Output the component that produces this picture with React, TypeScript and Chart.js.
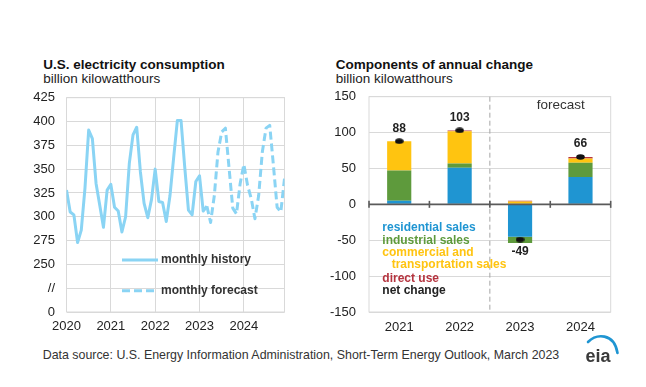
import React, { useEffect, useRef } from "react";
import { Chart, registerables } from "chart.js";
Chart.register(...registerables);

const FONT = "'Liberation Sans', Arial, Helvetica, sans-serif";
const GRID = "#d9d9d9";
const TEXT = "#222222";
const LINE = "#8ad4f4";
const BLUE = "#1f95d2";
const GREEN = "#5e9a3c";
const YELLOW = "#ffc410";
const RED = "#b5343f";

// ---------- Left chart data (monthly, index 0 = Jan 2020) ----------
const yearLabels = ["2020", "2021", "2022", "2023", "2024"];
const leftYTicks = [200, 225, 250, 275, 300, 325, 350, 375, 400, 425];
// Jan 2020 .. Mar 2023
const historyValues = [
  328, 305, 302, 273, 286, 330, 391, 382, 335, 312, 289, 328,
  334, 310, 306, 284, 300, 356, 386, 394, 347, 314, 299, 318,
  350, 316, 315, 295, 322, 362, 401, 401, 352, 307, 302, 337,
  343, 306, 311,
];
// Mar 2023 .. Dec 2024
const forecastValues = [
  311, 294, 322, 368, 389, 393, 351, 309, 303, 335,
  355, 333, 319, 298, 322, 368, 393, 396, 354, 310, 305, 340,
];
const forecastStart = 38;

// ---------- Right chart data ----------
const changeYears = ["2021", "2022", "2023", "2024"];
const residential = [5, 51, -45, 38];
const industrial = [42, 6, -9, 20];
const commercial = [41, 45, 4, 6];
const directUse = [0, 1, 1, 2];
const netChange = [88, 103, -49, 66];
const rightYTicks = [-150, -100, -50, 0, 50, 100, 150];

function LeftChart() {
  const ref = useRef<HTMLCanvasElement>(null);
  useEffect(() => {
    const hist = historyValues.map((v, i) => ({ x: i, y: v }));
    const fc = forecastValues.map((v, i) => ({ x: forecastStart + i, y: v }));
    const yearTickVals = yearLabels.map((_, i) => i * 12).concat([59]);
    const legendPlugin = {
      id: "leftDecor",
      beforeDatasetsDraw(chart: any) {
        const { ctx, chartArea: a } = chart;
        ctx.save();
        ctx.strokeStyle = GRID;
        ctx.lineWidth = 1;
        ctx.strokeRect(a.left, a.top, a.right - a.left, a.bottom - a.top);
        ctx.restore();
      },
      afterDraw(chart: any) {
        const ctx = chart.ctx;
        ctx.save();
        ctx.strokeStyle = LINE;
        ctx.lineWidth = 3;
        ctx.beginPath();
        ctx.moveTo(122, 260);
        ctx.lineTo(158, 260);
        ctx.stroke();
        ctx.setLineDash([8, 4]);
        ctx.beginPath();
        ctx.moveTo(122, 290.7);
        ctx.lineTo(158, 290.7);
        ctx.stroke();
        ctx.setLineDash([]);
        ctx.fillStyle = "#333";
        ctx.font = `bold 12px ${FONT}`;
        ctx.textBaseline = "middle";
        ctx.textAlign = "left";
        ctx.fillText("monthly history", 161, 260);
        ctx.fillText("monthly forecast", 161, 290.7);
        ctx.restore();
      },
    };
    const chart = new Chart(ref.current!, {
      type: "line",
      data: {
        datasets: [
          {
            label: "monthly history",
            data: hist,
            borderColor: LINE,
            borderWidth: 3,
            pointRadius: 0,
            borderJoinStyle: "round",
            tension: 0,
          },
          {
            label: "monthly forecast",
            data: fc,
            borderColor: LINE,
            borderWidth: 3,
            borderDash: [8, 4],
            pointRadius: 0,
            borderJoinStyle: "round",
            tension: 0,
          },
        ],
      } as any,
      options: {
        responsive: false,
        animation: false,
        layout: { padding: { top: 97.7, right: 15.5, left: 0, bottom: 0 } },
        plugins: { legend: { display: false }, tooltip: { enabled: false } },
        scales: {
          x: {
            type: "linear",
            min: 0,
            max: 59,
            afterBuildTicks: (s: any) => {
              s.ticks = yearTickVals.map((v) => ({ value: v }));
            },
            afterFit: (s: any) => {
              s.height = 28;
            },
            ticks: {
              autoSkip: false,
              maxRotation: 0,
              padding: 7,
              color: TEXT,
              font: { family: FONT, size: 13 },
              callback: (v: any) => (v % 12 === 0 ? yearLabels[v / 12] : ""),
            },
            grid: { color: GRID, drawTicks: false },
            border: { display: false },
          },
          y: {
            min: 200,
            max: 425,
            afterBuildTicks: (s: any) => {
              s.ticks = leftYTicks.map((v) => ({ value: v }));
            },
            afterFit: (s: any) => {
              s.width = 66.5;
            },
            ticks: {
              padding: 11.5,
              color: TEXT,
              font: { family: FONT, size: 13 },
              callback: (v: any) => (v === 200 ? "0" : v === 225 ? "//" : String(v)),
            },
            grid: { color: GRID, drawTicks: false },
            border: { display: false },
          },
        },
      } as any,
      plugins: [legendPlugin],
    });
    return () => chart.destroy();
  }, []);
  return (
    <canvas
      ref={ref}
      width={300}
      height={340}
      style={{ position: "absolute", left: 0, top: 0, width: 300, height: 340 }}
    />
  );
}

function RightChart() {
  const ref = useRef<HTMLCanvasElement>(null);
  useEffect(() => {
    const dot = document.createElement("canvas");
    dot.width = 9;
    dot.height = 6;
    const dctx = dot.getContext("2d")!;
    dctx.fillStyle = "#111";
    dctx.beginPath();
    dctx.ellipse(4.5, 3, 4.3, 2.8, 0, 0, Math.PI * 2);
    dctx.fill();

    const OX = 320;
    const decor = {
      id: "rightDecor",
      beforeDatasetsDraw(chart: any) {
        const { ctx, chartArea: a, scales } = chart;
        ctx.save();
        ctx.strokeStyle = GRID;
        ctx.lineWidth = 1;
        ctx.strokeRect(a.left, a.top, a.right - a.left, a.bottom - a.top);
        const xs = scales.x;
        const mid = (xs.getPixelForValue(1) + xs.getPixelForValue(2)) / 2;
        ctx.strokeStyle = "#a6a6a6";
        ctx.setLineDash([5, 3]);
        ctx.beginPath();
        ctx.moveTo(mid, a.top);
        ctx.lineTo(mid, a.bottom);
        ctx.stroke();
        ctx.setLineDash([]);
        ctx.fillStyle = "#333";
        ctx.font = `13.5px ${FONT}`;
        ctx.textBaseline = "middle";
        ctx.textAlign = "left";
        ctx.fillText("forecast", 536.7 - OX, 105.7);
        ctx.restore();
      },
      afterDatasetsDraw(chart: any) {
        const { ctx, chartArea: a, scales } = chart;
        const xs = scales.x;
        const y0 = scales.y.getPixelForValue(0);
        ctx.save();
        ctx.strokeStyle = "#5a5a5a";
        ctx.lineWidth = 1.6;
        ctx.beginPath();
        ctx.moveTo(a.left, y0);
        ctx.lineTo(a.right, y0);
        ctx.stroke();
        const step = xs.getPixelForValue(1) - xs.getPixelForValue(0);
        for (let i = 0; i <= changeYears.length; i++) {
          const x = xs.getPixelForValue(0) - step / 2 + i * step;
          ctx.beginPath();
          ctx.moveTo(x, y0 - 3.5);
          ctx.lineTo(x, y0 + 3.5);
          ctx.stroke();
        }
        // net change dots and value labels on top of the bars
        const meta = chart.getDatasetMeta(0);
        ctx.font = `bold 12px ${FONT}`;
        ctx.fillStyle = TEXT;
        ctx.textAlign = "center";
        ctx.textBaseline = "middle";
        meta.data.forEach((p: any, i: number) => {
          const v = netChange[i];
          ctx.drawImage(dot, p.x - dot.width / 2, p.y - dot.height / 2);
          ctx.fillText(String(v), p.x, v >= 0 ? p.y - 13 : p.y + 12);
        });
        // legend
        ctx.textAlign = "left";
        ctx.font = `bold 12px ${FONT}`;
        const lx = 382.3 - OX;
        const items: [string, string, number, number][] = [
          ["residential sales", BLUE, lx, 227.3],
          ["industrial sales", GREEN, lx, 240.3],
          ["commercial and", YELLOW, lx, 252.3],
          ["transportation sales", YELLOW, 391.7 - OX, 265],
          ["direct use", RED, lx, 278.5],
          ["net change", TEXT, lx, 291],
        ];
        items.forEach(([t, c, x, y]) => {
          ctx.fillStyle = c;
          ctx.fillText(t, x, y);
        });
        ctx.restore();
      },
    };

    const chart = new Chart(ref.current!, {
      type: "bar",
      data: {
        labels: changeYears,
        datasets: [
          {
            type: "line",
            label: "net change",
            data: netChange,
            showLine: false,
            pointRadius: 0,
            stack: "net",
            order: -1,
          },
          { label: "residential sales", data: residential, backgroundColor: BLUE, stack: "c" },
          { label: "industrial sales", data: industrial, backgroundColor: GREEN, stack: "c" },
          { label: "commercial and transportation sales", data: commercial, backgroundColor: YELLOW, stack: "c" },
          { label: "direct use", data: directUse, backgroundColor: RED, stack: "c" },
        ],
      } as any,
      options: {
        responsive: false,
        animation: false,
        datasets: { bar: { categoryPercentage: 1, barPercentage: 0.4 } },
        layout: { padding: { top: 96.7, right: 35.3, left: 0, bottom: 0 } },
        plugins: { legend: { display: false }, tooltip: { enabled: false } },
        scales: {
          x: {
            stacked: true,
            grid: { display: false, drawTicks: false },
            border: { display: false },
            afterFit: (s: any) => {
              s.height = 28;
            },
            ticks: { padding: 8, color: TEXT, font: { family: FONT, size: 13 } },
          },
          y: {
            stacked: true,
            min: -150,
            max: 150,
            afterBuildTicks: (s: any) => {
              s.ticks = rightYTicks.map((v) => ({ value: v }));
            },
            afterFit: (s: any) => {
              s.width = 49;
            },
            ticks: { padding: 13, color: TEXT, font: { family: FONT, size: 13 } },
            grid: {
              drawTicks: false,
              color: (c: any) => (c.tick && c.tick.value === 0 ? "rgba(0,0,0,0)" : GRID),
            },
            border: { display: false },
          },
        },
      } as any,
      plugins: [decor],
    });
    return () => chart.destroy();
  }, []);
  return (
    <canvas
      ref={ref}
      width={326}
      height={340}
      style={{ position: "absolute", left: 320, top: 0, width: 326, height: 340 }}
    />
  );
}

export default function App() {
  const title: React.CSSProperties = {
    position: "absolute",
    fontFamily: FONT,
    fontSize: 13.5,
    lineHeight: "16px",
    color: "#111",
    whiteSpace: "nowrap",
  };
  return (
    <div
      style={{
        position: "absolute",
        left: 0,
        top: 0,
        width: 646,
        height: 387,
        background: "#fff",
        overflow: "hidden",
      }}
    >
      <div style={{ ...title, left: 43.3, top: 57, fontWeight: "bold" }}>U.S. electricity consumption</div>
      <div style={{ ...title, left: 43.3, top: 71, color: "#222" }}>billion kilowatthours</div>
      <div style={{ ...title, left: 335.7, top: 57, fontWeight: "bold" }}>Components of annual change</div>
      <div style={{ ...title, left: 335.7, top: 71, color: "#222" }}>billion kilowatthours</div>
      <LeftChart />
      <RightChart />
      <div
        style={{
          position: "absolute",
          left: 42.7,
          top: 347,
          fontFamily: FONT,
          fontSize: 12.4,
          lineHeight: "16px",
          color: "#333",
          whiteSpace: "nowrap",
        }}
      >
        Data source: U.S. Energy Information Administration, Short-Term Energy Outlook, March 2023
      </div>
      <svg
        width={42}
        height={36}
        style={{ position: "absolute", left: 581, top: 330 }}
      >
        <path d="M 7 12 C 15 4, 33 2, 36.5 23" stroke={BLUE} strokeWidth={2.6} fill="none" strokeLinecap="round" />
        <text x={4.5} y={32} fontFamily={FONT} fontWeight="bold" fontSize={18} fill="#3a3a3a">
          eia
        </text>
      </svg>
    </div>
  );
}
